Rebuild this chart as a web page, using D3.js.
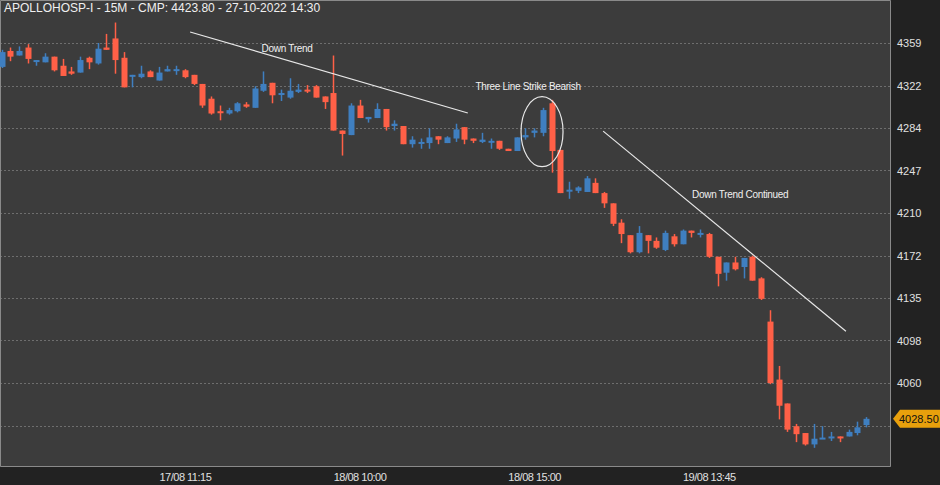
<!DOCTYPE html>
<html>
<head>
<meta charset="utf-8">
<script src="https://cdn.jsdelivr.net/npm/d3@7"></script>
<style>
  body { margin: 0; background: #222; }
  text { font-family: "Liberation Sans", Arial, sans-serif; }
</style>
</head>
<body>
<div class="canvas"></div>
<script>
// candle data (15M bars)
const opens  = [4338,4352,4348,4355,4343,4342,4347,4339,4334,4333,4346,4341,4355,4363,4346,4330,4329,4334,4326,4334,
                4335,4335,4331,4323,4310,4299,4297,4299,4305,4302,4317,4324,4314,4311,4316,4318,4321,4312,4315,4282,
                4278,4304,4292,4293,4301,4286,4286,4270,4271,4271,4277,4271,4275,4285,4275,4272,4272,4273,4266,4264,
                4276,4280,4280,4306,4265,4229,4229,4228,4236,4227,4218,4201,4190,4175,4190,4185,4177,4189,4182,4194,
                4191,4191,4171,4157,4166,4162,4171,4152,4114,4063,4042,4022,4016,4006,4011,4012,4013,4013,4016,4023];
const closes = [4351,4347,4352,4345,4344,4347,4335,4330,4332,4344,4342,4354,4353,4344,4320,4331,4332,4329,4333,4336,
                4336,4329,4323,4304,4297,4298,4300,4306,4303,4319,4323,4313,4315,4317,4318,4317,4311,4307,4282,4279,
                4304,4293,4294,4301,4285,4288,4270,4274,4272,4276,4274,4276,4283,4274,4273,4274,4273,4266,4264,4276,
                4278,4282,4300,4264,4227,4230,4232,4240,4227,4218,4200,4191,4175,4192,4185,4179,4192,4182,4194,4192,
                4192,4171,4156,4166,4160,4170,4150,4134,4060,4040,4019,4015,4006,4011,4012,4013,4012,4017,4021,4028.5];
const highs  = [4353,4355,4356,4358,4344,4350,4347,4345,4338,4347,4347,4359,4367,4377,4351,4331,4339,4335,4338,4339,
                4339,4336,4331,4323,4312,4304,4302,4307,4307,4321,4334,4324,4318,4328,4323,4322,4322,4312,4348,4282,
                4306,4309,4294,4306,4301,4291,4286,4277,4275,4284,4277,4277,4288,4285,4275,4280,4275,4273,4266,4276,
                4284,4284,4302,4309,4265,4237,4233,4242,4240,4228,4218,4204,4190,4198,4190,4188,4194,4191,4195,4194,
                4195,4192,4171,4166,4171,4170,4172,4153,4124,4075,4042,4024,4016,4024,4022,4017,4013,4019,4026,4030];
const lows   = [4337,4343,4348,4341,4339,4342,4334,4330,4331,4333,4336,4340,4353,4332,4320,4320,4328,4329,4326,4334,
                4331,4328,4322,4302,4296,4291,4296,4298,4302,4302,4316,4306,4308,4310,4315,4315,4311,4301,4282,4260,
                4278,4293,4289,4293,4282,4282,4270,4267,4266,4266,4270,4271,4272,4270,4271,4271,4266,4265,4264,4264,
                4274,4276,4277,4245,4227,4222,4227,4228,4227,4214,4198,4183,4174,4174,4174,4178,4176,4180,4182,4188,
                4188,4170,4145,4150,4159,4152,4150,4133,4059,4028,4017,4008,4005,4003,4011,4009,4008,4013,4014,4021];

// right axis ticks and their labels
const tickValues = [4359,4321.6,4284.3,4246.9,4209.5,4172.1,4134.8,4097.4,4060,4022.6];
const tickLabels = ['4359','4322','4284','4247','4210','4172','4135','4098','4060',''];
// bottom axis: bar index -> label
const timeIdx    = [21,41,61,81];
const timeLabels = ['17/08 11:15','18/08 10:00','18/08 15:00','19/08 13:45'];
const lastPrice = 4028.5;

const data = opens.map((o, i) => ({i, o, c: closes[i], h: highs[i], l: lows[i]}));

const W = 940, H = 485;
const plotW = 891, plotH = 467;
const svg = d3.select('.canvas').append('svg').attr('width', W).attr('height', H);

svg.append('rect').attr('width', W).attr('height', H).attr('fill', '#222');
svg.append('rect').attr('x', 0).attr('y', 0).attr('width', plotW).attr('height', plotH).attr('fill', '#3c3c3c');

const x = d3.scaleLinear().domain([0, 99]).range([1.5, 866]);
const y = d3.scaleLinear().domain([4359, 4060]).range([43, 383]);

// gridlines
svg.append('g').selectAll('line').data(tickValues).join('line')
  .attr('x1', 0).attr('x2', plotW)
  .attr('y1', d => Math.round(y(d)) + 0.5).attr('y2', d => Math.round(y(d)) + 0.5)
  .attr('stroke', '#6e6e6e').attr('stroke-dasharray', '2,2');

// frame
svg.append('path').attr('d', `M0.5,0.5H${plotW - 0.5}V${plotH - 0.5}H0.5Z`)
  .attr('fill', 'none').attr('stroke', '#8a8a8a');

// candles
const up = '#3f7fc0', down = '#ff6047';
const g = svg.append('g');
g.selectAll('line.wick').data(data).join('line').attr('class', 'wick')
  .attr('x1', d => Math.round(x(d.i)) + 0.5).attr('x2', d => Math.round(x(d.i)) + 0.5)
  .attr('y1', d => y(d.h)).attr('y2', d => y(d.l))
  .attr('stroke', d => d.c >= d.o ? up : down).attr('stroke-width', 1.5);
g.selectAll('rect.body').data(data).join('rect').attr('class', 'body')
  .attr('x', d => Math.round(x(d.i)) - 2.5)
  .attr('width', 6)
  .attr('y', d => y(Math.max(d.o, d.c)))
  .attr('height', d => Math.max(2, Math.abs(y(d.o) - y(d.c))))
  .attr('fill', d => d.c >= d.o ? up : down);

// right axis
const yAxis = d3.axisRight(y).tickValues(tickValues).tickSize(0).tickFormat((d, i) => tickLabels[i]);
svg.append('g').attr('transform', `translate(${plotW + 3},0)`).call(yAxis)
  .call(a => a.select('.domain').remove())
  .selectAll('text').attr('fill', '#e0e0e0').attr('font-size', 11);

// bottom axis
const xAxis = d3.axisBottom(x).tickValues(timeIdx).tickSize(0).tickFormat((d, i) => timeLabels[i]);
svg.append('g').attr('transform', `translate(0,${plotH + 3})`).call(xAxis)
  .call(a => a.select('.domain').remove())
  .selectAll('text').attr('fill', '#e0e0e0').attr('font-size', 11).attr('letter-spacing', -0.5);

// last price tag
const ly = y(lastPrice);
svg.append('path')
  .attr('d', `M${plotW + 2},${ly} L${plotW + 9},${ly - 9} H${W} V${ly + 9} H${plotW + 9} Z`)
  .attr('fill', '#e8a00c');
svg.append('text').attr('x', plotW + 8).attr('y', ly + 4).attr('font-size', 11).attr('fill', '#111')
  .text(lastPrice.toFixed(2));

// title
svg.append('text').attr('x', 4).attr('y', 12).attr('font-size', 12).attr('fill', '#f0f0f0')
  .text('APOLLOHOSP-I - 15M -  CMP: 4423.80 - 27-10-2022 14:30');

// annotations
const trendLines = [
  {x1: 21.6, p1: 4368.7, x2: 53.4, p2: 4297.4},
  {x1: 68.9, p1: 4281.5, x2: 96.7, p2: 4105.5}
];
svg.append('g').selectAll('line').data(trendLines).join('line')
  .attr('x1', d => x(d.x1)).attr('y1', d => y(d.p1))
  .attr('x2', d => x(d.x2)).attr('y2', d => y(d.p2))
  .attr('stroke', '#e8e8e8').attr('stroke-width', 1.2);

svg.append('ellipse').attr('cx', x(61.9)).attr('cy', y(4281))
  .attr('rx', 21).attr('ry', 35).attr('fill', 'none').attr('stroke', '#e8e8e8').attr('stroke-width', 1.2);

const notes = [
  {i: 32.7, p: 4351, t: 'Down Trend'},
  {i: 60.3, p: 4318, t: 'Three Line Strike Bearish'},
  {i: 84.6, p: 4223, t: 'Down Trend Continued'}
];
svg.append('g').selectAll('text').data(notes).join('text')
  .attr('x', d => x(d.i)).attr('y', d => y(d.p)).attr('text-anchor', 'middle')
  .attr('font-size', 10).attr('fill', '#f0f0f0').attr('letter-spacing', -0.3)
  .text(d => d.t);
</script>
</body>
</html>
